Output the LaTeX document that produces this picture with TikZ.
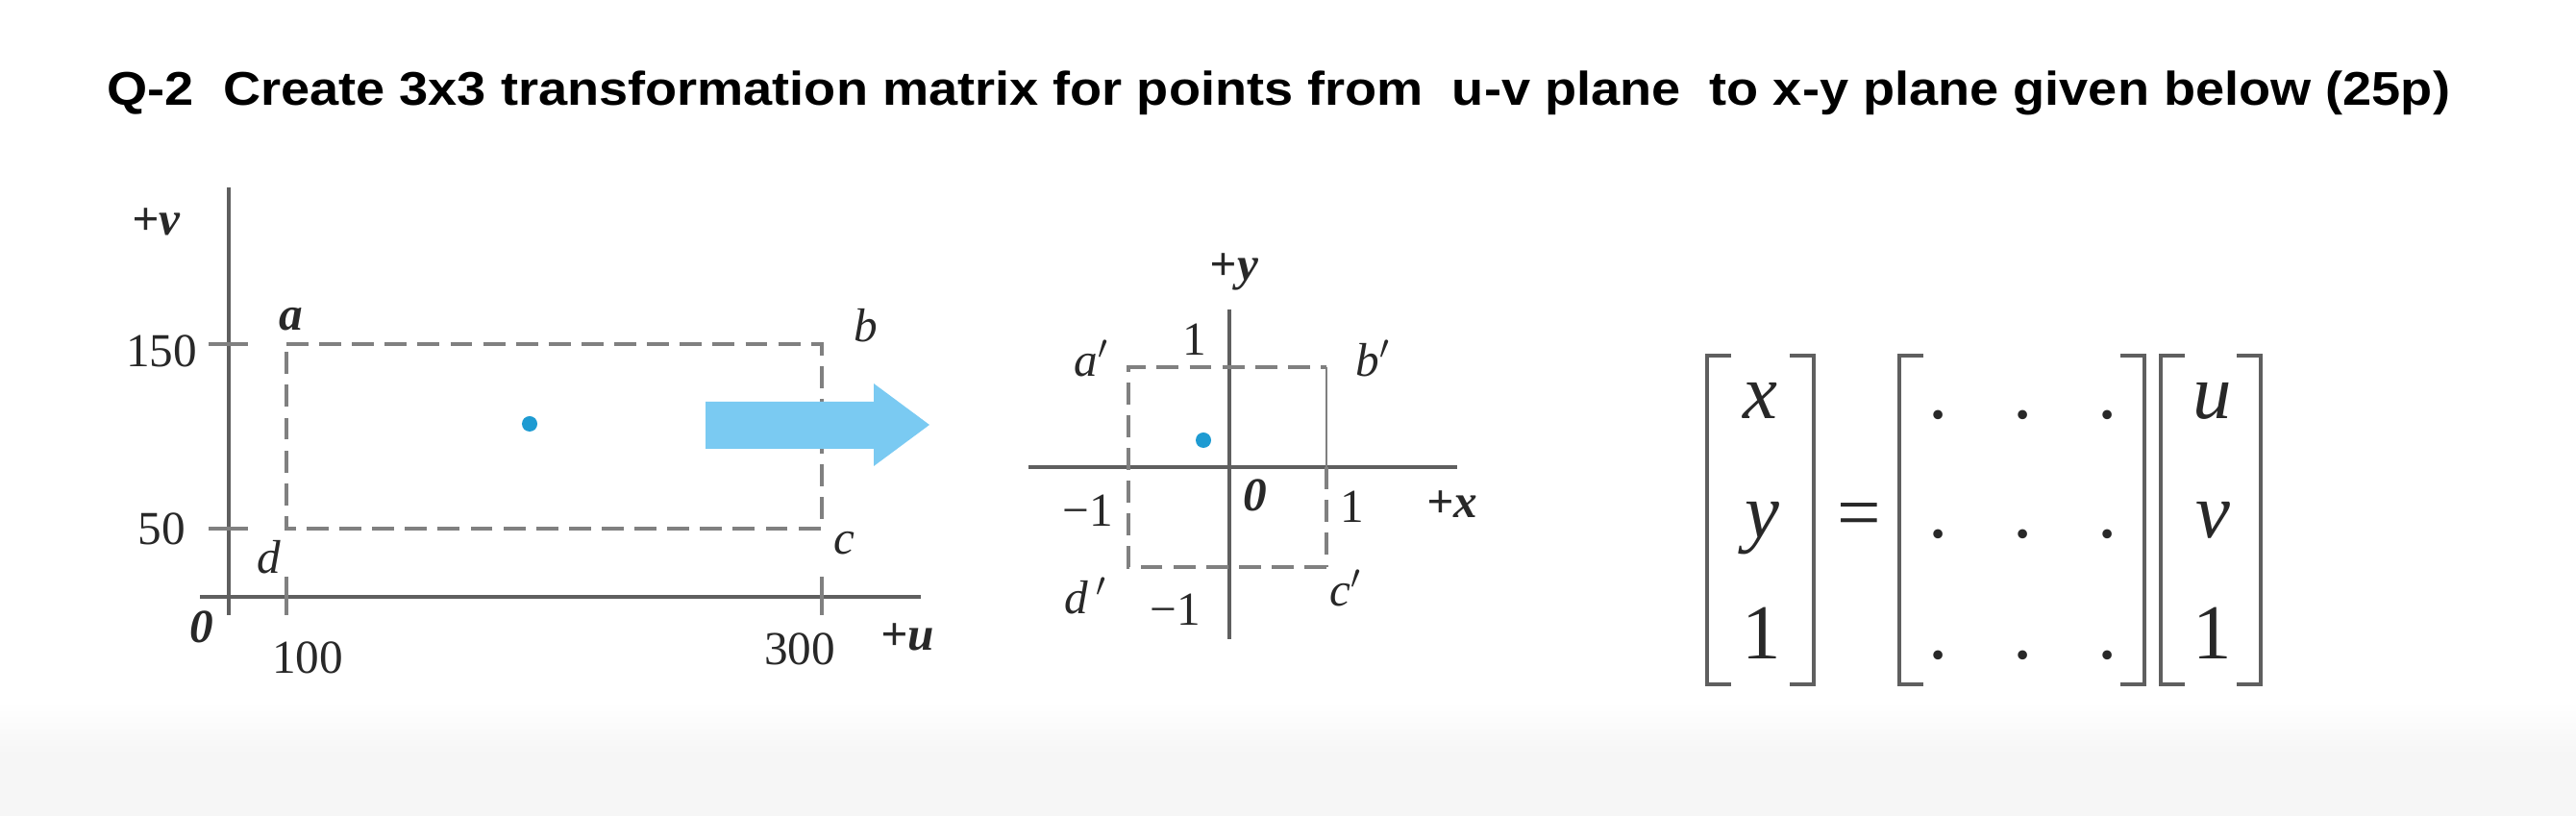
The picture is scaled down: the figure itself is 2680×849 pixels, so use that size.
\documentclass[tikz,border=0pt]{standalone}
\usepackage{fontspec}
\setmainfont{Liberation Serif}
\newfontfamily\headfont{Liberation Sans}
\definecolor{axisgray}{RGB}{95,95,95}
\definecolor{dashgray}{RGB}{128,128,128}
\definecolor{dotblue}{RGB}{30,155,210}
\definecolor{arrowblue}{RGB}{122,202,242}
\definecolor{bandgray}{RGB}{246,246,246}
\definecolor{labelgray}{RGB}{40,40,40}
\tikzset{
  axisline/.style={draw=axisgray, line width=1.2pt},
  boxline/.style={draw=dashgray, line width=1pt, dash pattern=on 6.5pt off 3.2pt},
  tickline/.style={draw=dashgray, line width=1pt},
  headline/.style={anchor=base west, inner sep=0pt, font=\headfont\bfseries\fontsize{14}{16}\selectfont},
  uvlabel/.style={inner sep=0pt, text=labelgray, font=\fontsize{14}{16}\selectfont},
  xylabel/.style={inner sep=0pt, text=labelgray, font=\fontsize{14}{16}\selectfont},
  entry/.style={anchor=base, inner sep=0pt, text=labelgray, font=\fontsize{23}{26}\selectfont},
  bracket/.style={draw=axisgray, line width=1.3pt},
  bluedot/.style={circle, fill=dotblue, inner sep=0pt, minimum size=0.16cm},
}
\begin{document}
\begin{tikzpicture}[x=0.01cm, y=-0.01cm]
\useasboundingbox (0,0) rectangle (2680,849);
\shade[top color=white, bottom color=bandgray] (0,730) rectangle (2680,785);
\fill[bandgray] (0,785) rectangle (2680,849);

\node[headline] (head) at (111,110) {\scalebox{1.1}[1]{Q-2\ \ Create 3x3 transformation matrix for points from\ \ u-v plane\ \ to x-y plane given below (25p)}};

% u-v plane
\draw[axisline] (238,195) -- (238,640);
\draw[axisline] (208,621) -- (958,621);
\draw[tickline] (217,358) -- (258,358);
\draw[tickline] (217,550) -- (258,550);
\draw[tickline] (298,600) -- (298,640);
\draw[tickline] (855,600) -- (855,640);
\draw[boxline] (298,358) -- (855,358) -- (855,550) -- (298,550) -- cycle;
\node[uvlabel] (vlab) at (163,231) {\textbf{\textit{+v}}};
\node[uvlabel] (v150) at (168,365) {150};
\node[uvlabel] (v50) at (168,550) {50};
\node[uvlabel] (orig) at (210,652) {\textbf{\textit{0}}};
\node[uvlabel] (u100) at (320,684) {100};
\node[uvlabel] (u300) at (832,675) {300};
\node[uvlabel] (ulab) at (944,663) {\textbf{\textit{+u}}};
\node[uvlabel] (ca) at (303,332) {\textbf{\textit{a}}};
\node[uvlabel] (cb) at (901,339) {\textit{b}};
\node[uvlabel] (cc) at (878,565) {\textit{c}};
\node[uvlabel] (cd) at (280,580) {\textit{d}};
\node[bluedot] (pt) at (551,441) {};

\fill[arrowblue] (734,418) -- (909,418) -- (909,399) -- (967,442) -- (909,485) -- (909,467) -- (734,467) -- cycle;

% x-y plane
\draw[axisline] (1279,322) -- (1279,665);
\draw[axisline] (1070,486) -- (1516,486);
\draw[boxline] (1380,590) -- (1174,590) -- (1174,382) -- (1380,382);
\draw[boxline] (1380,486) -- (1380,590);
\draw[draw=dashgray, line width=0.6pt] (1380,382) -- (1380,486);
\node[xylabel] (ylab) at (1284,283) {\textbf{\textit{+y}}};
\node[xylabel] (y1) at (1243,353) {1};
\node[xylabel] (ca2) at (1136,373) {\textit{a}$'$};
\node[xylabel] (cb2) at (1429,373) {\textit{b}$'$};
\node[xylabel] (xm1) at (1132,531) {−1};
\node[xylabel] (orig2) at (1306,515) {\textbf{\textit{0}}};
\node[xylabel] (x1) at (1407,527) {1};
\node[xylabel] (xlab) at (1511,525) {\textbf{\textit{+x}}};
\node[xylabel] (cd2) at (1130,620) {\textit{d}\,$'$};
\node[xylabel] (cc2) at (1400,612) {\textit{c}$'$};
\node[xylabel] (ym1) at (1223,634) {−1};
\node[bluedot] (pt2) at (1252,458) {};

% matrix equation
\draw[bracket] (1801,370) -- (1776,370) -- (1776,712) -- (1801,712);
\draw[bracket] (1862,370) -- (1887,370) -- (1887,712) -- (1862,712);
\draw[bracket] (2001,370) -- (1976,370) -- (1976,712) -- (2001,712);
\draw[bracket] (2206,370) -- (2231,370) -- (2231,712) -- (2206,712);
\draw[bracket] (2273,370) -- (2248,370) -- (2248,712) -- (2273,712);
\draw[bracket] (2327,370) -- (2352,370) -- (2352,712) -- (2327,712);
\node[entry] (ex) at (1831,436) {\textit{x}};
\node[entry] (ey) at (1833,560) {\textit{y}};
\node[entry] (e1) at (1833,686) {1};
\node[entry] (eq) at (1934,561) {=};
\foreach \c in {2017,2105,2193}
  \foreach \r in {436,560,686}
    \node[entry] (m\c\r) at (\c,\r) {.};
\node[entry] (eu) at (2302,436) {\textit{u}};
\node[entry] (ev) at (2302,560) {\textit{v}};
\node[entry] (f1) at (2302,686) {1};
\end{tikzpicture}
\end{document}
